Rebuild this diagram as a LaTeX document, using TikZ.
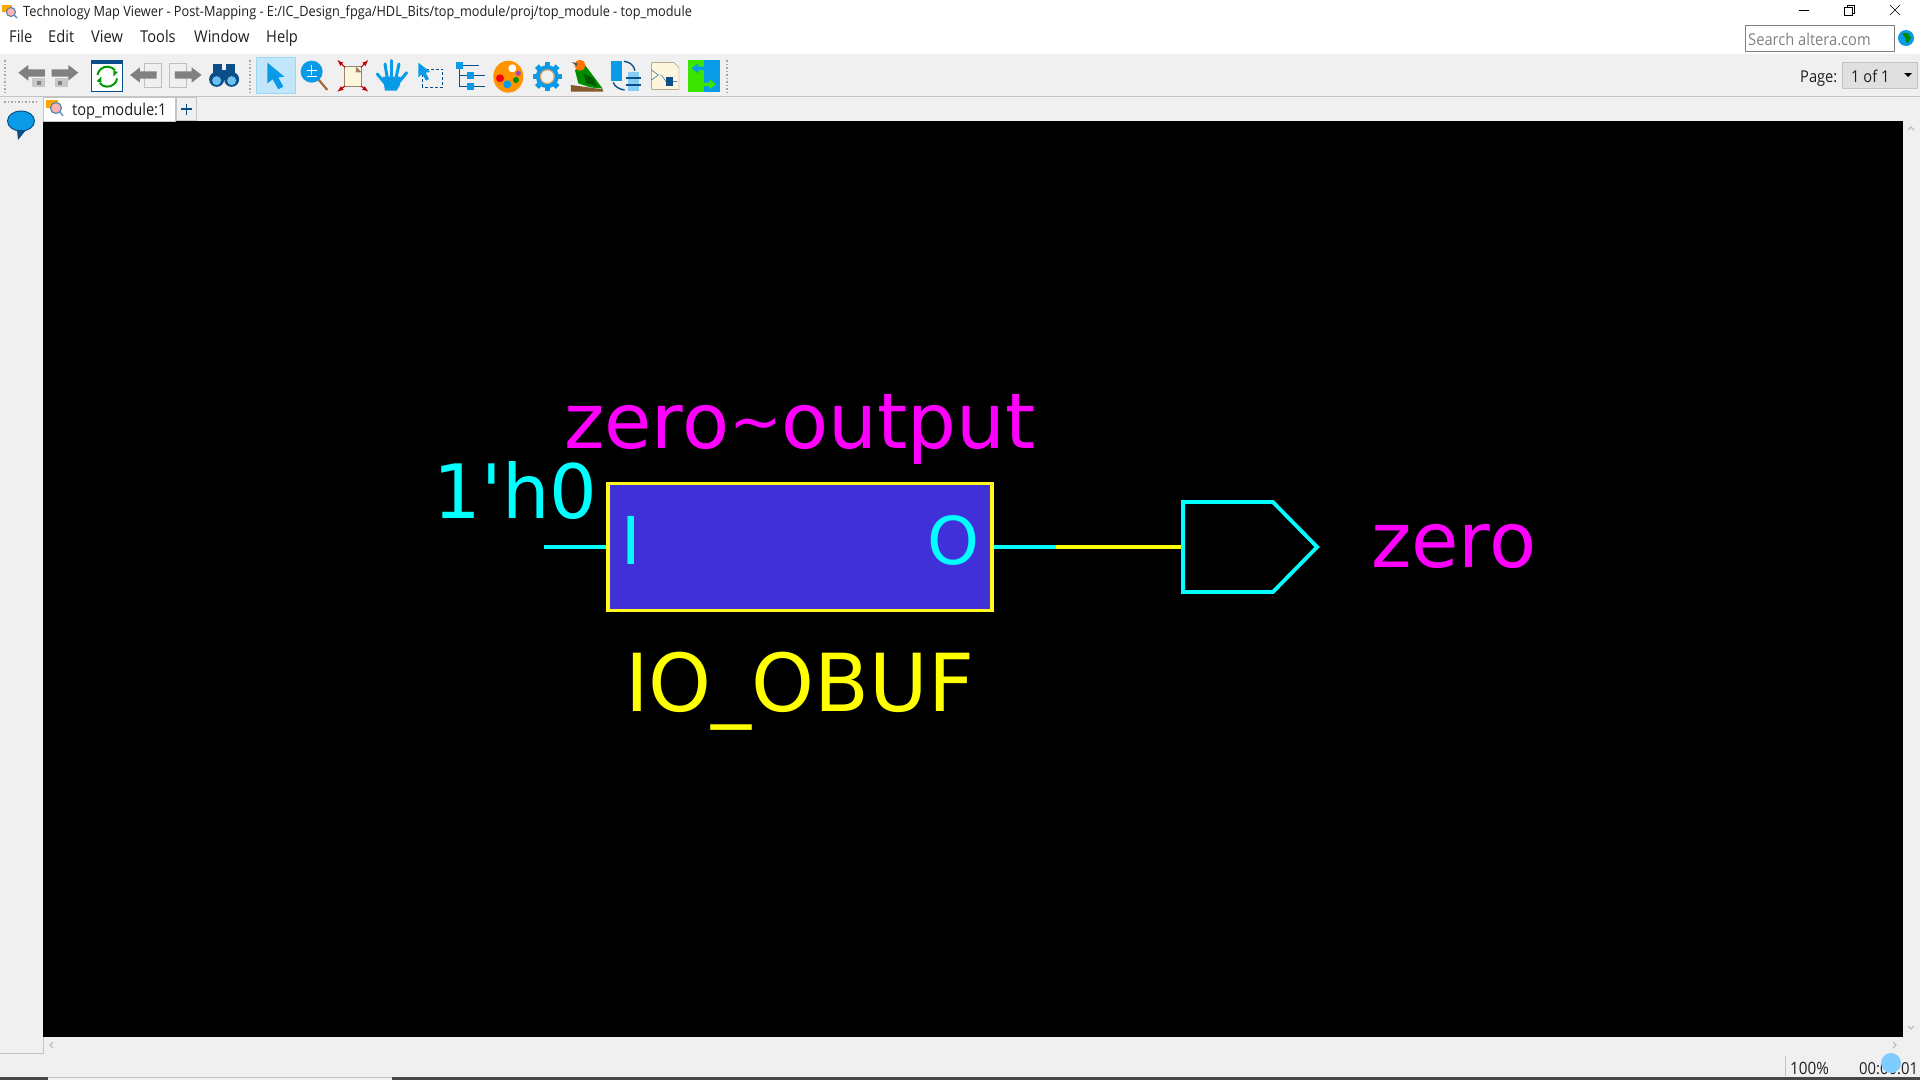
\documentclass[tikz,border=0pt]{standalone}
\usepackage{fontspec}
\usetikzlibrary{shapes.symbols}
\newfontfamily\schemfont{DejaVu Sans}
\newfontfamily\uifont[FakeStretch=0.9]{Open Sans}
\definecolor{panelgray}{HTML}{F0F0F0}
\definecolor{linegray}{HTML}{C4C4C4}
\definecolor{obufblue}{HTML}{4030D8}
\definecolor{obufedge}{HTML}{FFF81A}
\definecolor{iconblue}{HTML}{0A9BE8}
\definecolor{iconnavy}{HTML}{0B4F8A}
\definecolor{iconcream}{HTML}{FDF5DC}
\definecolor{icongray}{HTML}{808080}
\definecolor{lensblue}{HTML}{6CC0F0}
\definecolor{recblue}{HTML}{7FCCFF}
\definecolor{netcyan}{HTML}{00FFFF}
\definecolor{netyellow}{HTML}{FFFF00}
\definecolor{namemagenta}{HTML}{FF00FF}
\tikzset{
    uitext/.style={font=\uifont\fontsize{16.3}{18}\selectfont,text=black!88,anchor=base west,inner sep=0pt},
    schemlabel/.style={font=\schemfont\fontsize{77}{77}\selectfont,anchor=base west,inner sep=0pt},
    pinletter/.style={font=\schemfont\fontsize{66}{66}\selectfont,text=netcyan,anchor=base,inner sep=0pt},
    wire/.style={line width=3.6pt},
    obufbox/.style={draw=obufedge,fill=obufblue,line width=3.8pt,minimum width=384pt,minimum height=127pt,inner sep=0pt},
    pinbox/.style={draw=netcyan,line width=3.8pt,signal,signal to=east,signal from=nowhere,signal pointer angle=91,minimum width=134pt,minimum height=90pt,inner sep=0pt},
    iconz/.style={x=0.3333pt,y=-0.3333pt},
}
\begin{document}
\begin{tikzpicture}[x=1pt,y=-1pt]
    \useasboundingbox (0,0) rectangle (1920,1080);
    %% window
    \fill[panelgray] (0,0) rectangle (1920,1080);
    \fill[white] (0,0) rectangle (1920,54);
    \draw[linegray] (0,96.5) -- (1920,96.5);
    \fill[black] (43,120.5) rectangle (1903,1037);
    \draw[linegray] (0,1053) -- (43,1053) -- (43,1037);
    \fill[black!72] (0,1077) rectangle (48,1080);
    \fill[black!72] (392,1077) rectangle (1920,1080);
    \draw[linegray] (48,1077.5) -- (392,1077.5);
    %% title and menu
    \fill[orange!70!yellow] (2,5) rectangle (12,12);
    \draw[iconnavy!70,fill=red!30,line width=1.1pt] (11,12) circle (4.5);
    \draw[iconnavy!70,line width=1.1pt] (14,15) -- (17,18);
    \node[uitext,font=\uifont\fontsize{14.16}{16}\selectfont] (titletext) at (23,16) {Technology Map Viewer - Post-Mapping - E:/IC\_Design\_fpga/HDL\_Bits/top\_module/proj/top\_module - top\_module};
    \node[uitext] (menufile) at (9,42) {File};
    \node[uitext] (menuedit) at (48,42) {Edit};
    \node[uitext] (menuview) at (91,42) {View};
    \node[uitext] (menutools) at (140,42) {Tools};
    \node[uitext] (menuwindow) at (194,42) {Window};
    \node[uitext] (menuhelp) at (266,42) {Help};
    %% window buttons
    \draw[black] (1799,10.5) -- (1809,10.5);
    \draw[black] (1844.5,7.5) rectangle (1852.5,15.5);
    \draw[black] (1847,7.5) -- (1847,5.5) -- (1854.5,5.5) -- (1854.5,13) -- (1852.5,13);
    \draw[black] (1890,5) -- (1900,15) (1890,15) -- (1900,5);
    %% search box
    \draw[icongray,fill=white] (1745.5,25.5) rectangle (1894.5,51.5);
    \node[uitext,text=black!50] (searchtext) at (1748,45) {Search altera.com};
    \fill[iconblue] (1906,38) circle (8);
    \fill[green!55!black] (1902,33) -- (1908,33) -- (1911,38) -- (1907,44) -- (1905,38) -- cycle;
    %% page selector
    \node[uitext] (pagelabel) at (1800,82) {Page:};
    \draw[linegray,fill=black!12] (1842.5,62.5) rectangle (1917.5,88.5);
    \node[uitext] (pagevalue) at (1851,82) {1 of 1};
    \fill[black] (1904,73) -- (1912,73) -- (1908,77) -- cycle;
    %% toolbar grips
    \foreach \gripx in {5,250,727}
        \foreach \gripy in {60,63.5,...,92}
            \fill[black!35] (\gripx-1,\gripy) rectangle (\gripx+1,\gripy+1.5);
    \foreach \gripx in {4,7.5,...,38}
        \fill[black!35] (\gripx,101) rectangle (\gripx+1.5,103);
    %% left icons
    \begin{scope}[iconz,shift={(0pt,-50pt)}]
        %% back and forward
        \fill[black!22] (95,85) rectangle (135,110);
        \fill[black!22] (165,85) rectangle (205,110);
        \fill[icongray] (110,92) rectangle (122,104);
        \fill[icongray] (175,92) rectangle (187,104);
        \fill[icongray] (55,68) -- (85,45) -- (85,58) -- (135,58) -- (135,80) -- (85,80) -- (85,92) -- cycle;
        \fill[icongray] (235,68) -- (205,45) -- (205,58) -- (155,58) -- (155,80) -- (205,80) -- (205,92) -- cycle;
        %% refresh
        \draw[iconnavy,fill=white,line width=1pt] (275,32) rectangle (367,124);
        \fill[iconnavy] (274,30) rectangle (368,42);
        \draw[green!60!black,line width=2pt] (322,80) ++(40:10pt) arc[start angle=40,end angle=170,radius=10pt];
        \draw[green!60!black,line width=2pt] (322,80) ++(220:10pt) arc[start angle=220,end angle=350,radius=10pt];
        \fill[green!60!black] (340,62) -- (354,66) -- (340,80) -- cycle;
        \fill[green!60!black] (304,98) -- (290,94) -- (304,80) -- cycle;
        %% pages with arrows
        \draw[black!25,fill=panelgray] (432,40) rectangle (485,112);
        \draw[black!25,fill=panelgray] (508,40) rectangle (560,112);
        \fill[icongray] (390,75) -- (420,52) -- (420,64) -- (470,64) -- (470,86) -- (420,86) -- (420,98) -- cycle;
        \fill[icongray] (605,75) -- (575,52) -- (575,64) -- (525,64) -- (525,86) -- (575,86) -- (575,98) -- cycle;
        %% binoculars
        \fill[iconnavy] (640,42) rectangle (667,85);
        \fill[iconnavy] (678,42) rectangle (705,85);
        \fill[iconnavy] (650,88) circle (7.5pt);
        \fill[iconnavy] (695,88) circle (7.5pt);
        \fill[iconnavy] (660,60) rectangle (685,88);
        \fill[lensblue] (650,92) circle (4.5pt);
        \fill[lensblue] (695,92) circle (4.5pt);
    \end{scope}
    %% highlighted pointer
    \draw[iconblue!40,fill=iconblue!25] (256.5,57.5) rectangle (295,93);
    \begin{scope}[iconz,shift={(250pt,-50pt)}]
        \fill[iconblue] (52,38) -- (52,100) -- (68,88) -- (85,118) -- (100,110) -- (85,82) -- (103,80) -- cycle;
        %% zoom
        \draw[brown!85!black,line width=2.2pt] (200,82) -- (232,120);
        \fill[iconblue] (185,65) circle (11pt);
        \draw[white] (170,78) -- (200,78) (170,60) -- (200,60) (185,45) -- (185,75);
        %% fit page
        \draw[brown!60!black!70,fill=iconcream] (283,50) rectangle (335,110);
        \fill[brown!60!black!70] (318,50) -- (335,67) -- (318,67) -- cycle;
        \draw[red!75!black,line width=1.1pt,-latex] (285,52) -- (262,30);
        \draw[red!75!black,line width=1.1pt,-latex] (333,52) -- (355,30);
        \draw[red!75!black,line width=1.1pt,-latex] (285,108) -- (262,125);
        \draw[red!75!black,line width=1.1pt,-latex] (333,108) -- (355,125);
        %% hand
        \fill[iconblue] (398,80) -- (452,80) -- (450,105) -- (440,122) -- (405,122) -- cycle;
        \foreach \tipx/\tipy/\rootx/\rooty in {382/72/405/100,405/42/412/85,426/32/426/85,447/42/438/85,470/68/448/95}
            \draw[iconblue,line width=3pt,line cap=round] (\tipx,\tipy) -- (\rootx,\rooty);
        %% area select
        \draw[iconnavy,densely dashed] (518,58) rectangle (578,112);
        \fill[iconblue] (505,38) -- (505,82) -- (517,72) -- (528,92) -- (537,87) -- (527,68) -- (541,66) -- cycle;
        %% hierarchy
        \draw[iconnavy] (628,46) -- (688,46) (628,46) -- (628,108) -- (705,108) (628,77) -- (705,77);
        \fill[iconblue] (618,36) rectangle (638,56);
        \fill[iconblue] (650,67) rectangle (672,88);
        \fill[iconblue] (650,99) rectangle (672,120);
        %% palette
        \fill[orange!85!yellow] (775,80) ellipse (15pt and 16pt);
        \fill[white] (787,55) circle (4pt);
        \fill[violet!70!white] (805,70) circle (2.6pt);
        \fill[red!80!purple] (750,85) circle (4pt);
        \fill[green!55!black] (798,90) circle (3pt);
        \fill[iconblue] (772,103) circle (4pt);
        %% gear
        \foreach \toothangle in {0,45,...,315}
            \fill[iconblue,rotate around={\toothangle:(892,80)}] (884,36) rectangle (900,60);
        \fill[iconblue] (892,80) circle (11.5pt);
        \fill[brown!60!orange!70] (892,80) circle (7.5pt);
        \fill[panelgray] (892,80) circle (6.2pt);
        %% bird
        \fill[brown!70!black] (963,105) -- (1058,118) -- (1060,125) -- (963,125) -- cycle;
        \fill[green!55!black] (975,60) -- (1005,45) -- (1030,78) -- (1058,116) -- (1020,112) -- (985,100) -- cycle;
        \fill[green!35!black] (1000,70) -- (1030,85) -- (1042,110) -- (1010,100) -- cycle;
        \fill[orange!90!red] (990,46) circle (5.5pt);
        \fill[black!70] (965,36) -- (982,40) -- (980,48) -- cycle;
        %% connect
        \fill[iconblue] (1083,33) rectangle (1115,92);
        \fill[iconblue!50] (1135,67) rectangle (1168,122);
        \draw[iconnavy,line width=1.4pt] (1122,34) .. controls (1140,36) and (1152,46) .. (1155,62);
        \draw[iconnavy,line width=1.4pt] (1090,97) .. controls (1094,110) and (1108,118) .. (1124,120);
        \fill[iconnavy] (1128,80) rectangle (1174,87);
        \fill[iconnavy] (1128,102) rectangle (1174,109);
        %% schematic
        \draw[brown!60!black!70,fill=iconcream] (1205,38) -- (1272,38) -- (1287,53) -- (1287,118) -- (1205,118) -- cycle;
        \draw[iconnavy] (1205,60) -- (1225,75) -- (1205,90) (1225,75) -- (1235,75) -- (1248,95) -- (1282,95);
        \fill[iconnavy] (1248,82) rectangle (1270,108);
        %% split view
        \fill[green!65!lime!90!black] (1315,30) rectangle (1362,125);
        \fill[iconblue] (1362,30) rectangle (1410,125);
        \fill[iconblue] (1325,55) -- (1345,40) -- (1345,50) -- (1362,50) -- (1362,60) -- (1345,60) -- (1345,70) -- cycle;
        \fill[green!65!lime!90!black] (1398,103) -- (1378,88) -- (1378,98) -- (1362,98) -- (1362,108) -- (1378,108) -- (1378,118) -- cycle;
    \end{scope}
    %% tab row
    \draw[linegray,fill=white] (43.5,97.5) rectangle (175,121);
    \fill[orange!70!yellow] (46,100) rectangle (58,108);
    \draw[iconnavy!70,fill=red!30,line width=1.2pt] (56,108) circle (5.5);
    \draw[iconnavy!70,line width=1.2pt] (60,112) -- (63,116);
    \node[uitext] (tablabel) at (72,115) {top\_module:1};
    \draw[linegray,fill=panelgray] (176.5,97.5) rectangle (196,120);
    \draw[iconnavy,line width=1.5pt] (181,109) -- (192,109) (186.5,103.5) -- (186.5,114.5);
    %% speech bubble
    \draw[iconnavy,fill=iconblue,line width=1pt] (21,121) ellipse (13.5 and 10);
    \fill[iconnavy] (17,130) -- (26,130) -- (18,140) -- cycle;
    %% canvas scroll marks
    \draw[black!25,line width=1.2pt] (1908,130) -- (1911,127) -- (1914,130);
    \draw[black!25,line width=1.2pt] (1908,1026) -- (1911,1029) -- (1914,1026);
    \draw[black!25,line width=1.2pt] (53,1042) -- (50,1045) -- (53,1048);
    \draw[black!25,line width=1.2pt] (1893,1042) -- (1896,1045) -- (1893,1048);
    %% status bar
    \draw[linegray] (1785.5,1056) -- (1785.5,1076);
    \node[uitext,font=\uifont\fontsize{17}{18}\selectfont] (zoomtext) at (1790,1074) {100\%};
    \node[uitext,font=\uifont\fontsize{16.5}{18}\selectfont] (timetext) at (1859,1074) {00:00:01};
    \fill[recblue] (1891,1063) circle (10);
    %% mapped cell
    \node[obufbox] (obuf) at (800,547) {};
    \node[pinletter] (pinI) at (631,564) {I};
    \node[pinletter] (pinO) at (953,564) {O};
    \node[pinbox] (zeropin) at (1228,547) {};
    \coordinate (constend) at (544,547);
    \coordinate (netsplit) at (1056,547);
    %% wires
    \draw[wire,netcyan] (constend) -- (obuf.west);
    \draw[wire,netcyan] (obuf.east) -- (netsplit);
    \draw[wire,netyellow] (netsplit) -- (zeropin.west);
    %% labels
    \node[schemlabel,text=namemagenta] (cellname) at (564,448) {zero\raisebox{5pt}{\fontsize{63}{63}\selectfont\textasciitilde}output};
    \node[schemlabel,text=netcyan,font=\schemfont\fontsize{75}{75}\selectfont] (constval) at (433.5,518) {1'h0};
    \node[schemlabel,text=netyellow,font=\schemfont\fontsize{80}{80}\selectfont] (celltype) at (625,711) {IO\_OBUF};
    \node[schemlabel,text=namemagenta] (pinname) at (1371,567) {zero};
\end{tikzpicture}
\end{document}
